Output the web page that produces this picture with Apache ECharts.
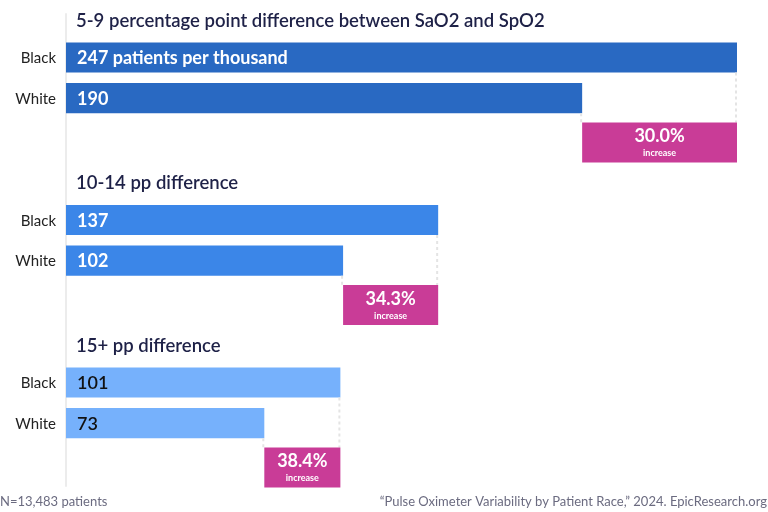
<!DOCTYPE html>
<html>
<head>
<meta charset="utf-8">
<script src="https://cdn.jsdelivr.net/npm/echarts@6/dist/echarts.min.js"></script>
<style>
  html, body { margin: 0; padding: 0; background: #fff; }
  #chart { width: 768px; height: 512px; }
</style>
</head>
<body>
<div id="chart"></div>
<script>
// values
var groupTitles = [
  '5-9 percentage point difference between SaO2 and SpO2',
  '10-14 pp difference',
  '15+ pp difference'
];
var races = ['Black', 'White'];
var blackValues = [247, 137, 101];
var whiteValues = [190, 102, 73];
var increaseLabels = ['30.0%', '34.3%', '38.4%'];
var barColors = ['#2969c2', '#3b86e8', '#76b1fc'];

var FONT = 'Lato, "Noto Sans", sans-serif';
var ROWS_PER_GROUP = 4; // title, Black, White, increase

function rowOf(g, k) { return g * ROWS_PER_GROUP + k; }

// build series data from the arrays
var titleItems = groupTitles.map(function (t, g) { return [0, rowOf(g, 0), g]; });
var barItems = [];
groupTitles.forEach(function (t, g) {
  barItems.push([blackValues[g], rowOf(g, 1), g, 0]);
  barItems.push([whiteValues[g], rowOf(g, 2), g, 1]);
});
var increaseItems = groupTitles.map(function (t, g) {
  return [whiteValues[g], blackValues[g], rowOf(g, 3), g];
});

function renderTitle(params, api) {
  var p = api.coord([0, api.value(1)]);
  return {
    type: 'text',
    style: {
      text: groupTitles[api.value(2)],
      x: p[0] + 10, y: p[1] + 4,
      verticalAlign: 'middle',
      fill: '#1e2147',
      font: '600 18.5px ' + FONT
    }
  };
}

function renderBar(params, api) {
  var value = api.value(0), row = api.value(1), g = api.value(2), r = api.value(3);
  var start = api.coord([0, row]);
  var end = api.coord([value, row]);
  var h = api.size([0, 1])[1] * 0.74;
  var light = g === 2;
  var text = String(value);
  if (g === 0 && r === 0) text += ' patients per thousand';
  return {
    type: 'group',
    children: [
      {
        type: 'rect',
        shape: { x: start[0], y: start[1] - h / 2, width: end[0] - start[0], height: h },
        style: { fill: barColors[g] }
      },
      {
        type: 'text',
        style: {
          text: text,
          x: start[0] + 11, y: start[1] + 1,
          verticalAlign: 'middle',
          fill: light ? '#111111' : '#ffffff',
          font: (light ? '600 ' : 'bold ') + '18px ' + FONT
        }
      },
      {
        type: 'text',
        style: {
          text: races[r],
          x: start[0] - 10, y: start[1] + 1,
          align: 'right', verticalAlign: 'middle',
          fill: '#222222',
          font: '15px ' + FONT
        }
      }
    ]
  };
}

function renderIncrease(params, api) {
  var white = api.value(0), black = api.value(1), row = api.value(2), g = api.value(3);
  var left = api.coord([white, row]);
  var right = api.coord([black, row]);
  var band = api.size([0, 1])[1];
  var boxH = band * 0.985;
  var cy = left[1] + 3.75;
  var top = cy - boxH / 2;
  var barH = band * 0.74;
  var blackBottom = api.coord([black, row - 2])[1] + barH / 2;
  var whiteBottom = api.coord([white, row - 1])[1] + barH / 2;
  var dash = { stroke: '#e4e4e4', lineWidth: 2, lineDash: [3, 3] };
  return {
    type: 'group',
    children: [
      { type: 'line', shape: { x1: right[0] - 1, y1: blackBottom, x2: right[0] - 1, y2: top }, style: dash },
      { type: 'line', shape: { x1: left[0] - 1, y1: whiteBottom, x2: left[0] - 1, y2: top }, style: dash },
      {
        type: 'rect',
        shape: { x: left[0], y: top, width: right[0] - left[0], height: boxH },
        style: { fill: '#c93c97' }
      },
      {
        type: 'text',
        style: {
          text: increaseLabels[g],
          x: (left[0] + right[0]) / 2, y: cy - 6,
          align: 'center', verticalAlign: 'middle',
          fill: '#ffffff',
          font: 'bold 18px ' + FONT
        }
      },
      {
        type: 'text',
        style: {
          text: 'increase',
          x: (left[0] + right[0]) / 2, y: cy + 11,
          align: 'center', verticalAlign: 'middle',
          fill: '#ffffff',
          font: 'bold 9px ' + FONT
        }
      }
    ]
  };
}

var chart = echarts.init(document.getElementById('chart'));
chart.setOption({
  animation: false,
  title: [
    {
      text: 'N=13,483 patients',
      left: 0, top: 495, padding: 0,
      textStyle: { fontSize: 13, fontWeight: 'normal', color: '#6b6b80', fontFamily: FONT }
    },
    {
      text: '\u201CPulse Oximeter Variability by Patient Race,\u201D 2024. EpicResearch.org',
      right: 1, top: 495, padding: 0,
      textStyle: { fontSize: 13, fontWeight: 'normal', color: '#6b6b80', fontFamily: FONT }
    }
  ],
  grid: { left: 66, right: 31, top: 14, bottom: 26 },
  xAxis: { type: 'value', min: 0, max: 247, show: false },
  yAxis: {
    type: 'value',
    inverse: true,
    min: -0.0714,
    max: 11.547,
    axisLine: { show: true, lineStyle: { color: '#ececec', width: 2 } },
    axisTick: { show: false },
    axisLabel: { show: false },
    splitLine: { show: false }
  },
  series: [
    {
      type: 'custom',
      name: 'titles',
      renderItem: renderTitle,
      encode: { x: 0, y: 1 },
      data: titleItems,
      silent: true
    },
    {
      type: 'custom',
      name: 'bars',
      renderItem: renderBar,
      encode: { x: 0, y: 1 },
      data: barItems
    },
    {
      type: 'custom',
      name: 'increase',
      renderItem: renderIncrease,
      encode: { x: [0, 1], y: 2 },
      data: increaseItems
    }
  ]
});
window.addEventListener('resize', function () { chart.resize(); });
</script>
</body>
</html>
